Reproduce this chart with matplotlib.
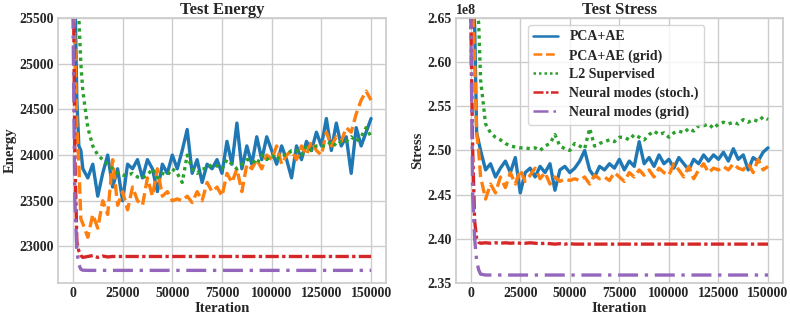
import numpy as np
import seaborn as sns
from matplotlib import pyplot as plt
from matplotlib.ticker import ScalarFormatter

sns.set_theme(style="whitegrid")
plt.rcParams['font.family'] = ['Liberation Serif', 'DejaVu Serif']
plt.rcParams['font.weight'] = 'bold'
plt.rcParams['axes.labelweight'] = 'bold'
plt.rcParams['axes.titleweight'] = 'bold'

# iterations: fine steps at the start, then every 2500
iters = [0, 1000, 2000, 3000, 4000, 5000] + list(range(7500, 150001, 2500))

energy_pca = [27000, 25800, 24600, 24100, 24050, 23850,
              23750, 23900, 23550, 23800, 24000, 23650, 23850, 23500, 23900, 23850,
              23950, 23750, 23950, 23850, 23600, 23900, 23800, 24000, 23850, 24050,
              24280, 23800, 23950, 23700, 23900, 23850, 23950, 23800, 24150, 23900,
              24350, 23850, 24100, 23900, 24200, 23950, 24200, 24050, 23900, 24100,
              23950, 23750, 24100, 23950, 24150, 24050, 24250, 24100, 24400, 24050,
              24350, 24100, 24200, 23800, 24300, 24100, 24250, 24400]
energy_pca_grid = [26000, 25200, 24300, 23900, 23300, 23250,
                   23100, 23350, 23200, 23500, 23350, 23950, 23450, 23600, 23400, 23650,
                   23500, 23450, 23750, 23550, 23850, 23550, 23600, 23500, 23520, 23500,
                   23550, 23480, 23600, 23500, 23700, 23600, 23650, 23550, 23800, 23700,
                   23850, 23600, 23900, 23850, 23950, 23850, 24000, 23950, 24100, 23900,
                   24000, 24050, 23950, 24100, 24000, 24150, 24050, 24000, 24250, 24100,
                   24200, 24150, 24300, 24250, 24450, 24600, 24700, 24600]
energy_l2 = [32000, 28000, 26000, 25500, 25000, 24700,
             24300, 24100, 24000, 23950, 23900, 23850, 23800, 23780, 23780, 23800,
             23760, 23750, 23780, 23850, 23750, 23800, 23780, 23850, 23800, 23700,
             24000, 23850, 23800, 23850, 23850, 23900, 23880, 23850, 23950, 23900,
             23850, 23900, 23950, 23950, 23900, 24000, 23950, 24000, 23950, 24000,
             24000, 24050, 24050, 24000, 24100, 24050, 24100, 24100, 24100, 24150,
             24100, 24150, 24150, 24200, 24150, 24200, 24300, 24200]
energy_nm_stoch = [26500, 24000, 23050, 22950, 22900, 22880,
                   22890, 22900, 22880, 22895, 22885, 22890, 22890, 22890, 22890, 22890,
                   22890, 22890, 22890, 22890, 22890, 22890, 22890, 22890, 22890, 22890,
                   22890, 22890, 22890, 22890, 22890, 22890, 22890, 22890, 22890, 22890,
                   22890, 22890, 22890, 22890, 22890, 22890, 22890, 22890, 22890, 22890,
                   22890, 22890, 22890, 22890, 22890, 22890, 22890, 22890, 22890, 22890,
                   22890, 22890, 22890, 22890, 22890, 22890, 22890, 22890]
energy_nm_grid = [25600, 23500, 22950, 22800, 22750, 22740,
                  22738, 22738, 22738, 22738, 22738, 22738, 22738, 22738, 22738, 22738,
                  22738, 22738, 22738, 22738, 22738, 22738, 22738, 22738, 22738, 22738,
                  22738, 22738, 22738, 22738, 22738, 22738, 22738, 22738, 22738, 22738,
                  22738, 22738, 22738, 22738, 22738, 22738, 22738, 22738, 22738, 22738,
                  22738, 22738, 22738, 22738, 22738, 22738, 22738, 22738, 22738, 22738,
                  22738, 22738, 22738, 22738, 22738, 22738, 22738, 22738]

# stress values in units of 1e8
stress_pca = [2.70, 2.68, 2.64, 2.52, 2.51, 2.50,
              2.478, 2.485, 2.470, 2.480, 2.488, 2.475, 2.492, 2.452, 2.475, 2.480,
              2.470, 2.482, 2.475, 2.485, 2.455, 2.478, 2.482, 2.475, 2.480, 2.488,
              2.500, 2.478, 2.470, 2.482, 2.478, 2.485, 2.480, 2.490, 2.478, 2.488,
              2.482, 2.510, 2.485, 2.492, 2.482, 2.495, 2.485, 2.490, 2.480, 2.492,
              2.485, 2.478, 2.490, 2.485, 2.495, 2.488, 2.495, 2.490, 2.498, 2.488,
              2.502, 2.490, 2.495, 2.478, 2.492, 2.488, 2.498, 2.503]
stress_pca_grid = [2.68, 2.66, 2.60, 2.52, 2.50, 2.47,
                   2.445, 2.462, 2.452, 2.470, 2.458, 2.475, 2.462, 2.478, 2.465, 2.472,
                   2.480, 2.468, 2.475, 2.462, 2.470, 2.465, 2.468, 2.466, 2.468, 2.466,
                   2.470, 2.462, 2.472, 2.468, 2.470, 2.466, 2.475, 2.470, 2.465, 2.475,
                   2.470, 2.478, 2.472, 2.478, 2.470, 2.480, 2.475, 2.472, 2.485, 2.478,
                   2.470, 2.482, 2.468, 2.478, 2.485, 2.475, 2.480, 2.478, 2.482, 2.478,
                   2.485, 2.480, 2.478, 2.485, 2.475, 2.490, 2.478, 2.482]
stress_l2 = [2.80, 2.72, 2.68, 2.655, 2.645, 2.58,
             2.530, 2.520, 2.515, 2.512, 2.508, 2.505, 2.504, 2.503, 2.503, 2.502,
             2.503, 2.500, 2.505, 2.508, 2.518, 2.505, 2.502, 2.500, 2.508, 2.505,
             2.502, 2.525, 2.505, 2.508, 2.510, 2.512, 2.510, 2.515, 2.515, 2.512,
             2.518, 2.515, 2.512, 2.518, 2.522, 2.518, 2.520, 2.515, 2.520, 2.522,
             2.520, 2.525, 2.522, 2.528, 2.528, 2.530, 2.525, 2.530, 2.532, 2.530,
             2.532, 2.530, 2.535, 2.532, 2.535, 2.533, 2.538, 2.535]
stress_nm_stoch = [2.66, 2.50, 2.42, 2.400, 2.396, 2.395,
                   2.3955, 2.395, 2.3955, 2.395, 2.3955, 2.395, 2.3955, 2.395, 2.395, 2.3955,
                   2.395, 2.3945, 2.395, 2.3945, 2.394, 2.3945, 2.394, 2.3945, 2.394, 2.394,
                   2.394, 2.394, 2.394, 2.394, 2.394, 2.394, 2.394, 2.394, 2.394, 2.394,
                   2.394, 2.394, 2.394, 2.394, 2.394, 2.394, 2.394, 2.394, 2.394, 2.394,
                   2.394, 2.394, 2.394, 2.394, 2.394, 2.394, 2.394, 2.394, 2.394, 2.394,
                   2.394, 2.394, 2.394, 2.394, 2.394, 2.394, 2.394, 2.394]
stress_nm_grid = [2.66, 2.45, 2.40, 2.375, 2.365, 2.360,
                  2.359, 2.359, 2.359, 2.359, 2.359, 2.359, 2.359, 2.359, 2.359, 2.359,
                  2.359, 2.359, 2.359, 2.359, 2.359, 2.359, 2.359, 2.359, 2.359, 2.359,
                  2.359, 2.359, 2.359, 2.359, 2.359, 2.359, 2.359, 2.359, 2.359, 2.359,
                  2.359, 2.359, 2.359, 2.359, 2.359, 2.359, 2.359, 2.359, 2.359, 2.359,
                  2.359, 2.359, 2.359, 2.359, 2.359, 2.359, 2.359, 2.359, 2.359, 2.359,
                  2.359, 2.359, 2.359, 2.359, 2.359, 2.359, 2.359, 2.359]

labels = ["PCA+AE", "PCA+AE (grid)", "L2 Supervised",
          "Neural modes (stoch.)", "Neural modes (grid)"]
colors = ["#1f77b4", "#ff7f0e", "#2ca02c", "#d62728", "#9467bd"]
styles = ["-", (0, (3.5, 1.5)), (0, (1, 1.2)), (0, (4, 1, 1, 1)), (0, (6, 2, 1, 2))]

fig = plt.figure(figsize=(7.9, 3.19), dpi=100)
ax1 = fig.add_axes([0.0734, 0.1129, 0.4152, 0.8307])
ax2 = fig.add_axes([0.577, 0.1129, 0.414, 0.8307])

energy = [energy_pca, energy_pca_grid, energy_l2, energy_nm_stoch, energy_nm_grid]
stress = [stress_pca, stress_pca_grid, stress_l2, stress_nm_stoch, stress_nm_grid]

x = np.array(iters)
for vals, lab, c, ls in zip(energy, labels, colors, styles):
    ax1.plot(x, vals, color=c, linestyle=ls, lw=2.4, label=lab)
for vals, lab, c, ls in zip(stress, labels, colors, styles):
    ax2.plot(x, np.array(vals) * 1e8, color=c, linestyle=ls, lw=2.4, label=lab)

ax1.set_ylim(22600, 25500)
ax1.set_yticks(np.arange(23000, 25501, 500))
ax2.set_ylim(2.35e8, 2.65e8)
ax2.set_yticks(np.arange(2.35, 2.651, 0.05) * 1e8)
for ax, title, ylab in [(ax1, "Test Energy", "Energy"), (ax2, "Test Stress", "Stress")]:
    ax.set_xticks(np.arange(0, 150001, 25000))
    ax.set_title(title, fontsize=12, pad=3)
    ax.set_xlabel("Iteration", fontsize=10.5, labelpad=1)
    ax.set_ylabel(ylab, fontsize=10.5, labelpad=2)
    ax.tick_params(labelsize=10, length=0, pad=3)
ax2.yaxis.set_major_formatter(ScalarFormatter())
ax2.ticklabel_format(axis='y', style='sci', scilimits=(0, 0))
ax2.yaxis.get_offset_text().set_fontsize(10)
ax2.yaxis.get_offset_text().set_fontweight('bold')

leg = ax2.legend(loc="upper center", handlelength=1.8, labelspacing=0.4,
                 bbox_to_anchor=(0.49, 1.0), prop={'weight': 'bold', 'size': 10})
for h in leg.get_lines():
    h.set_linewidth(1.8)

fig.savefig("out.png", dpi=100)
